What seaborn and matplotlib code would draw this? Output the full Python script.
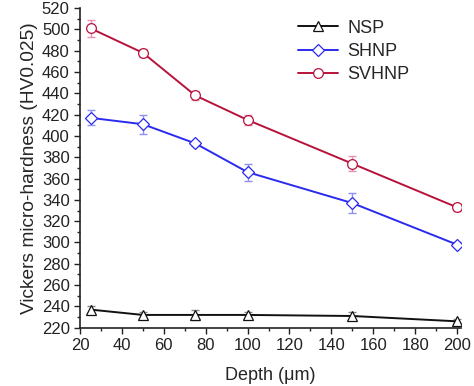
import seaborn as sns
import pandas as pd
import matplotlib.pyplot as plt
from matplotlib.ticker import MultipleLocator

# Profundidade (um) e microdureza para cada amostra
depth = [25, 50, 75, 100, 150, 200]
nsp = [237, 232, 232, 232, 231, 226]
nsp_err = [3, 3, 5, 3, 4, 2]
shnp = [417, 411, 393, 366, 337, 298]
shnp_err = [7, 9, 2, 8, 9, 2]
svhnp = [501, 478, 438, 415, 374, 333]
svhnp_err = [8, 4, 4, 5, 7, 3]

series = ['NSP', 'SHNP', 'SVHNP']
colors = {'NSP': '#111111', 'SHNP': '#2a2af0', 'SVHNP': '#b8123c'}
err_colors = {'NSP': '#888888', 'SHNP': '#9090f0', 'SVHNP': '#e890b0'}
markers = {'NSP': '^', 'SHNP': 'D', 'SVHNP': 'o'}

df = pd.DataFrame({
    'depth': depth * 3,
    'hv': nsp + shnp + svhnp,
    'err': nsp_err + shnp_err + svhnp_err,
    'sample': [s for s in series for _ in depth],
})

sns.set_style('ticks')
plt.rcParams['font.family'] = ['Liberation Sans', 'DejaVu Sans']

fig = plt.figure(figsize=(4.74, 3.86), dpi=100)
ax = fig.add_axes([0.169, 0.151, 0.804, 0.828])

for s in series:
    sub = df[df['sample'] == s]
    ax.errorbar(sub['depth'], sub['hv'], yerr=sub['err'], fmt='none',
                ecolor=err_colors[s], elinewidth=1, capsize=3, capthick=1, zorder=2)
    sns.lineplot(x='depth', y='hv', data=sub, ax=ax, color=colors[s], label=s,
                 marker=markers[s], markersize=7 if s != 'SHNP' else 6,
                 markerfacecolor='white', markeredgecolor=colors[s],
                 markeredgewidth=0.9, linewidth=1.4, zorder=3)

ax.set_xlim(20, 202)
ax.set_ylim(220, 520)
ax.xaxis.set_major_locator(MultipleLocator(20))
ax.xaxis.set_minor_locator(MultipleLocator(10))
ax.yaxis.set_major_locator(MultipleLocator(20))
ax.yaxis.set_minor_locator(MultipleLocator(10))
ax.tick_params(which='major', direction='out', length=4, width=1, labelsize=12, colors='#222222')
ax.tick_params(which='minor', direction='out', length=2, width=1)
sns.despine(ax=ax)
for sp in ['left', 'bottom']:
    ax.spines[sp].set_linewidth(1.2)
    ax.spines[sp].set_color('#222222')

ax.set_xlabel('Depth (μm)', fontsize=13, labelpad=10)
ax.set_ylabel('Vickers micro-hardness (HV0.025)', fontsize=13.8, labelpad=3)

ax.legend(loc='upper left', bbox_to_anchor=(0.53, 1.015), frameon=False, fontsize=13,
          handlelength=2.2, handletextpad=0.5, labelspacing=0.35)

fig.savefig('out.png', dpi=100)
